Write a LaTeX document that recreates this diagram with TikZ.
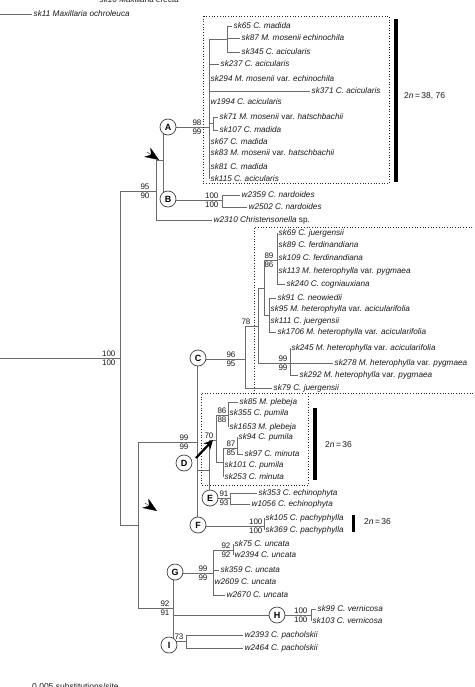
\documentclass[tikz,border=0pt]{standalone}
\usepackage{fontspec}
\setmainfont{Liberation Sans}
\usepackage{tikz}
\usetikzlibrary{arrows.meta,positioning,calc}
\definecolor{brgray}{gray}{0.42}
\definecolor{txtdark}{gray}{0.10}
\tikzset{
  phbranch/.style={draw=brgray, line width=0.8pt},
  phtaxon/.style={anchor=west, inner sep=1.5pt, text=txtdark,
    font=\fontsize{8.2}{10}\selectfont\itshape},
  phboot/.style={inner sep=0.4pt, text=txtdark, font=\fontsize{8}{9}\selectfont},
  phclade/.style={circle, draw=black!75, fill=white, line width=0.7pt,
    minimum size=16pt, inner sep=0pt, font=\fontsize{9}{9}\selectfont\bfseries},
  phbox/.style={draw=black!85, line width=0.7pt, dotted},
  phbar/.style={fill=black},
  phploidy/.style={anchor=west, inner sep=0pt, text=txtdark,
    font=\fontsize{8.5}{10}\selectfont},
  phpointer/.style={draw=black, fill=black, line width=0.2pt,
    -{Stealth[length=14pt,width=11pt]}}
}

\begin{document}
\begin{tikzpicture}[x=1pt,y=-1pt]
  \useasboundingbox (0,0) rectangle (474,687);
  \clip (0,0) rectangle (474,687);

  % internal nodes (x of vertical, y of stem)
  \coordinate (topin) at (0,14);
  \coordinate (rootin) at (0,358);
  \coordinate (n0) at (120,358);
  \coordinate (nU) at (156,191);
  \coordinate (nAB) at (163,160);
  \coordinate (nA) at (209,127);
  \coordinate (nA1) at (227,39);
  \coordinate (nA2) at (213,123);
  \coordinate (nB) at (222,200);
  \coordinate (nL) at (138,525);
  \coordinate (nCF) at (197,442);
  \coordinate (nC) at (245,359);
  \coordinate (nC1) at (258,326);
  \coordinate (nC2) at (264,288);
  \coordinate (n89) at (277,260);
  \coordinate (n91) at (269,315);
  \coordinate (nC3) at (290,363);
  \coordinate (nD) at (209,470);
  \coordinate (n70) at (216,440);
  \coordinate (n86) at (228,415);
  \coordinate (nD3) at (223,462);
  \coordinate (n87) at (237,448);
  \coordinate (nE) at (230,498);
  \coordinate (nF) at (264,526);
  \coordinate (nGI) at (173,608);
  \coordinate (nG) at (213,573);
  \coordinate (n92) at (233,550);
  \coordinate (nH) at (311,615);
  \coordinate (nI) at (186,641);

  % taxa
  \node[phtaxon, anchor=base west] (sk16) at (98,2.5) {sk16 Maxillaria erecta};
  \node[phtaxon] (sk11) at (32,14) {sk11 Maxillaria ochroleuca};

  \node[phtaxon] (sk65) at (232,26) {sk65 C. madida};
  \node[phtaxon] (sk87) at (240,38) {sk87 M. mosenii echinochila};
  \node[phtaxon] (sk345) at (240,52) {sk345 C. acicularis};
  \node[phtaxon] (sk237) at (219,64) {sk237 C. acicularis};
  \node[phtaxon] (sk294) at (209,79) {sk294 M. mosenii \textup{var.} echinochila};
  \node[phtaxon] (sk371) at (310,91) {sk371 C. acicularis};
  \node[phtaxon] (w1994) at (209,102) {w1994 C. acicularis};
  \node[phtaxon] (sk71) at (218,117) {sk71 M. mosenii \textup{var.} hatschbachii};
  \node[phtaxon] (sk107) at (218,130) {sk107 C. madida};
  \node[phtaxon] (sk67) at (209,142) {sk67 C. madida};
  \node[phtaxon] (sk83) at (209,153) {sk83 M. mosenii \textup{var.} hatschbachii};
  \node[phtaxon] (sk81) at (209,167) {sk81 C. madida};
  \node[phtaxon] (sk115) at (209,179) {sk115 C. acicularis};
  \node[phtaxon] (w2359) at (240,195) {w2359 C. nardoides};
  \node[phtaxon] (w2502) at (247,207) {w2502 C. nardoides};
  \node[phtaxon] (w2310) at (212,220) {w2310 Christensonella \textup{sp.}};

  \node[phtaxon] (sk69) at (277,233) {sk69 C. juergensii};
  \node[phtaxon] (sk89) at (277,245) {sk89 C. ferdinandiana};
  \node[phtaxon] (sk109) at (277,258) {sk109 C. ferdinandiana};
  \node[phtaxon] (sk113) at (277,271) {sk113 M. heterophylla \textup{var.} pygmaea};
  \node[phtaxon] (sk240) at (285,284) {sk240 C. cogniauxiana};
  \node[phtaxon] (sk91) at (276,298) {sk91 C. neowiedii};
  \node[phtaxon] (sk95) at (269,309) {sk95 M. heterophylla \textup{var.} acicularifolia};
  \node[phtaxon] (sk111) at (269,321) {sk111 C. juergensii};
  \node[phtaxon] (sk1706) at (276,332) {sk1706 M. heterophylla \textup{var.} acicularifolia};
  \node[phtaxon] (sk245) at (290,348) {sk245 M. heterophylla \textup{var.} acicularifolia};
  \node[phtaxon] (sk278) at (333,363) {sk278 M. heterophylla \textup{var.} pygmaea};
  \node[phtaxon] (sk292) at (298,375) {sk292 M. heterophylla \textup{var.} pygmaea};
  \node[phtaxon] (sk79) at (272,388) {sk79 C. juergensii};

  \node[phtaxon] (sk85) at (238,402) {sk85 M. plebeja};
  \node[phtaxon] (sk355) at (228,413) {sk355 C. pumila};
  \node[phtaxon] (sk1653) at (228,427) {sk1653 M. plebeja};
  \node[phtaxon] (sk94) at (237,437) {sk94 C. pumila};
  \node[phtaxon] (sk97) at (243,454) {sk97 C. minuta};
  \node[phtaxon] (sk101) at (223,465) {sk101 C. pumila};
  \node[phtaxon] (sk253) at (223,477) {sk253 C. minuta};
  \node[phtaxon] (sk353) at (257,493) {sk353 C. echinophyta};
  \node[phtaxon] (w1056) at (250,504) {w1056 C. echinophyta};
  \node[phtaxon] (sk105) at (264,518) {sk105 C. pachyphylla};
  \node[phtaxon] (sk369) at (264,530) {sk369 C. pachyphylla};

  \node[phtaxon] (sk75) at (233,544) {sk75 C. uncata};
  \node[phtaxon] (w2394) at (233,555) {w2394 C. uncata};
  \node[phtaxon] (sk359) at (219,570) {sk359 C. uncata};
  \node[phtaxon] (w2609) at (213,582) {w2609 C. uncata};
  \node[phtaxon] (w2670) at (225,595) {w2670 C. uncata};
  \node[phtaxon] (sk99) at (316,609) {sk99 C. vernicosa};
  \node[phtaxon] (sk103) at (311,621) {sk103 C. vernicosa};
  \node[phtaxon] (w2393) at (243,635) {w2393 C. pacholskii};
  \node[phtaxon] (w2464) at (243,648) {w2464 C. pacholskii};

  % branches
  \draw[phbranch] (topin) -- (sk11);
  \draw[phbranch] (rootin) -- (n0);
  \draw[phbranch] (n0) |- (nU) (n0) |- (nL);
  \draw[phbranch] (nU) |- (nAB) (nU) |- (w2310);
  \draw[phbranch] (nAB) |- (nA) (nAB) |- (nB);
  \draw[phbranch] (nA) |- (nA1) (nA) |- (sk237) (nA) |- (sk294) (nA) |- (sk371)
    (nA) |- (w1994) (nA) |- (nA2) (nA) |- (sk67) (nA) |- (sk83) (nA) |- (sk81) (nA) |- (sk115);
  \draw[phbranch] (nA1) |- (sk65) (nA1) |- (sk87) (nA1) |- (sk345);
  \draw[phbranch] (nA2) |- (sk71) (nA2) |- (sk107);
  \draw[phbranch] (nB) |- (w2359) (nB) |- (w2502);
  \draw[phbranch] (nL) |- (nCF) (nL) |- (nGI);
  \draw[phbranch] (nCF) |- (nC) (nCF) |- (nD) (nCF) |- (nF);
  \draw[phbranch] (nC) |- (nC1) (nC) |- (sk79);
  \draw[phbranch] (nC1) |- (nC2) (nC1) |- (nC3);
  \draw[phbranch] (nC2) |- (n89) (nC2) |- (n91);
  \draw[phbranch] (n89) |- (sk69) (n89) |- (sk89) (n89) |- (sk109) (n89) |- (sk113) (n89) |- (sk240);
  \draw[phbranch] (n91) |- (sk91) (n91) |- (sk95) (n91) |- (sk111) (n91) |- (sk1706);
  \draw[phbranch] (nC3) |- (sk245) (nC3) |- (sk278) (nC3) |- (sk292);
  \draw[phbranch] (nD) |- (n70) (nD) |- (nE);
  \draw[phbranch] (n70) |- (n86) (n70) |- (nD3);
  \draw[phbranch] (n86) |- (sk85) (n86) |- (sk355) (n86) |- (sk1653);
  \draw[phbranch] (nD3) |- (n87) (nD3) |- (sk101) (nD3) |- (sk253);
  \draw[phbranch] (n87) |- (sk94) (n87) |- (sk97);
  \draw[phbranch] (nE) |- (sk353) (nE) |- (w1056);
  \draw[phbranch] (nF) |- (sk105) (nF) |- (sk369);
  \draw[phbranch] (nGI) |- (nG) (nGI) |- (nH) (nGI) |- (nI);
  \draw[phbranch] (nG) |- (n92) (nG) |- (sk359) (nG) |- (w2609) (nG) |- (w2670);
  \draw[phbranch] (n92) |- (sk75) (n92) |- (w2394);
  \draw[phbranch] (nH) |- (sk99) (nH) |- (sk103);
  \draw[phbranch] (nI) |- (w2393) (nI) |- (w2464);

  % dotted groups
  \draw[phbox] (203,16) rectangle (389,183);
  \draw[phbox] (480,227) -| (254,393) -- (480,393);
  \draw[phbox] (254,393) -| (201,485) -| (308,393);

  % support values
  \node[phboot, anchor=south east] (b0a) at (116,357) {100};
  \node[phboot, anchor=north east] (b0b) at (116,359) {100};
  \node[phboot, anchor=south east] (bUa) at (150,190) {95};
  \node[phboot, anchor=north east] (bUb) at (150,192) {90};
  \node[phboot, anchor=south east] (bAa) at (202,126) {98};
  \node[phboot, anchor=north east] (bAb) at (202,128) {99};
  \node[phboot, anchor=south east] (bBa) at (219,199) {100};
  \node[phboot, anchor=north east] (bBb) at (219,201) {100};
  \node[phboot, anchor=south east] (bCa) at (236,358) {96};
  \node[phboot, anchor=north east] (bCb) at (236,360) {95};
  \node[phboot, anchor=south east] (bC1) at (251,325) {78};
  \node[phboot, anchor=south east] (b89a) at (274,259) {89};
  \node[phboot, anchor=north east] (b89b) at (274,261) {86};
  \node[phboot, anchor=south east] (bC3a) at (288,362) {99};
  \node[phboot, anchor=north east] (bC3b) at (288,364) {99};
  \node[phboot, anchor=south east] (bCFa) at (189,441) {99};
  \node[phboot, anchor=north east] (bCFb) at (189,443) {99};
  \node[phboot, anchor=south east] (b70) at (214,439) {70};
  \node[phboot, anchor=south east] (b86a) at (227,414) {86};
  \node[phboot, anchor=north east] (b86b) at (227,416) {88};
  \node[phboot, anchor=south east] (b87a) at (236,447) {87};
  \node[phboot, anchor=north east] (b87b) at (236,449) {85};
  \node[phboot, anchor=south east] (bEa) at (229,497) {91};
  \node[phboot, anchor=north east] (bEb) at (229,499) {93};
  \node[phboot, anchor=south east] (bFa) at (263,525) {100};
  \node[phboot, anchor=north east] (bFb) at (263,527) {100};
  \node[phboot, anchor=south east] (bGIa) at (170,607) {92};
  \node[phboot, anchor=north east] (bGIb) at (170,609) {91};
  \node[phboot, anchor=south east] (bGa) at (208,572) {99};
  \node[phboot, anchor=north east] (bGb) at (208,574) {99};
  \node[phboot, anchor=south east] (b92a) at (231,549) {92};
  \node[phboot, anchor=north east] (b92b) at (231,551) {92};
  \node[phboot, anchor=south east] (bHa) at (308,614) {100};
  \node[phboot, anchor=north east] (bHb) at (308,616) {100};
  \node[phboot, anchor=south east] (bI) at (184,640) {73};

  % clade letters
  \node[phclade] (cA) at (168,127) {A};
  \node[phclade] (cB) at (168,199) {B};
  \node[phclade] (cC) at (198,358) {C};
  \node[phclade] (cD) at (184,463) {D};
  \node[phclade] (cE) at (210,498) {E};
  \node[phclade] (cF) at (198,525) {F};
  \node[phclade] (cG) at (175,572) {G};
  \node[phclade] (cH) at (277,615) {H};
  \node[phclade] (cI) at (169,645) {I};

  % chromosome numbers
  \fill[phbar] (394,19) rectangle (398,182);
  \fill[phbar] (313,408) rectangle (317,480);
  \fill[phbar] (352,515) rectangle (355,532);
  \node[phploidy] (ploA) at (404,96) {2\textit{n}\,=\,38, 76};
  \node[phploidy] (ploD) at (325,445) {2\textit{n}\,=\,36};
  \node[phploidy] (ploF) at (364,522) {2\textit{n}\,=\,36};

  % pointers
  \coordinate (ar1s) at (147,152);
  \coordinate (ar1e) at (159,160);
  \draw[phpointer] (ar1s) -- (ar1e);
  \coordinate (ar2s) at (196,458);
  \coordinate (ar2e) at (213,440);
  \draw[phpointer, line width=2.2pt, -{Stealth[length=9pt,width=9pt]}] (ar2s) -- (ar2e);
  \coordinate (ar3s) at (145,503);
  \coordinate (ar3e) at (157,511);
  \draw[phpointer] (ar3s) -- (ar3e);

  \node[phploidy, anchor=base west] (scale) at (32,689) {0.005 substitutions/site};
\end{tikzpicture}
\end{document}
